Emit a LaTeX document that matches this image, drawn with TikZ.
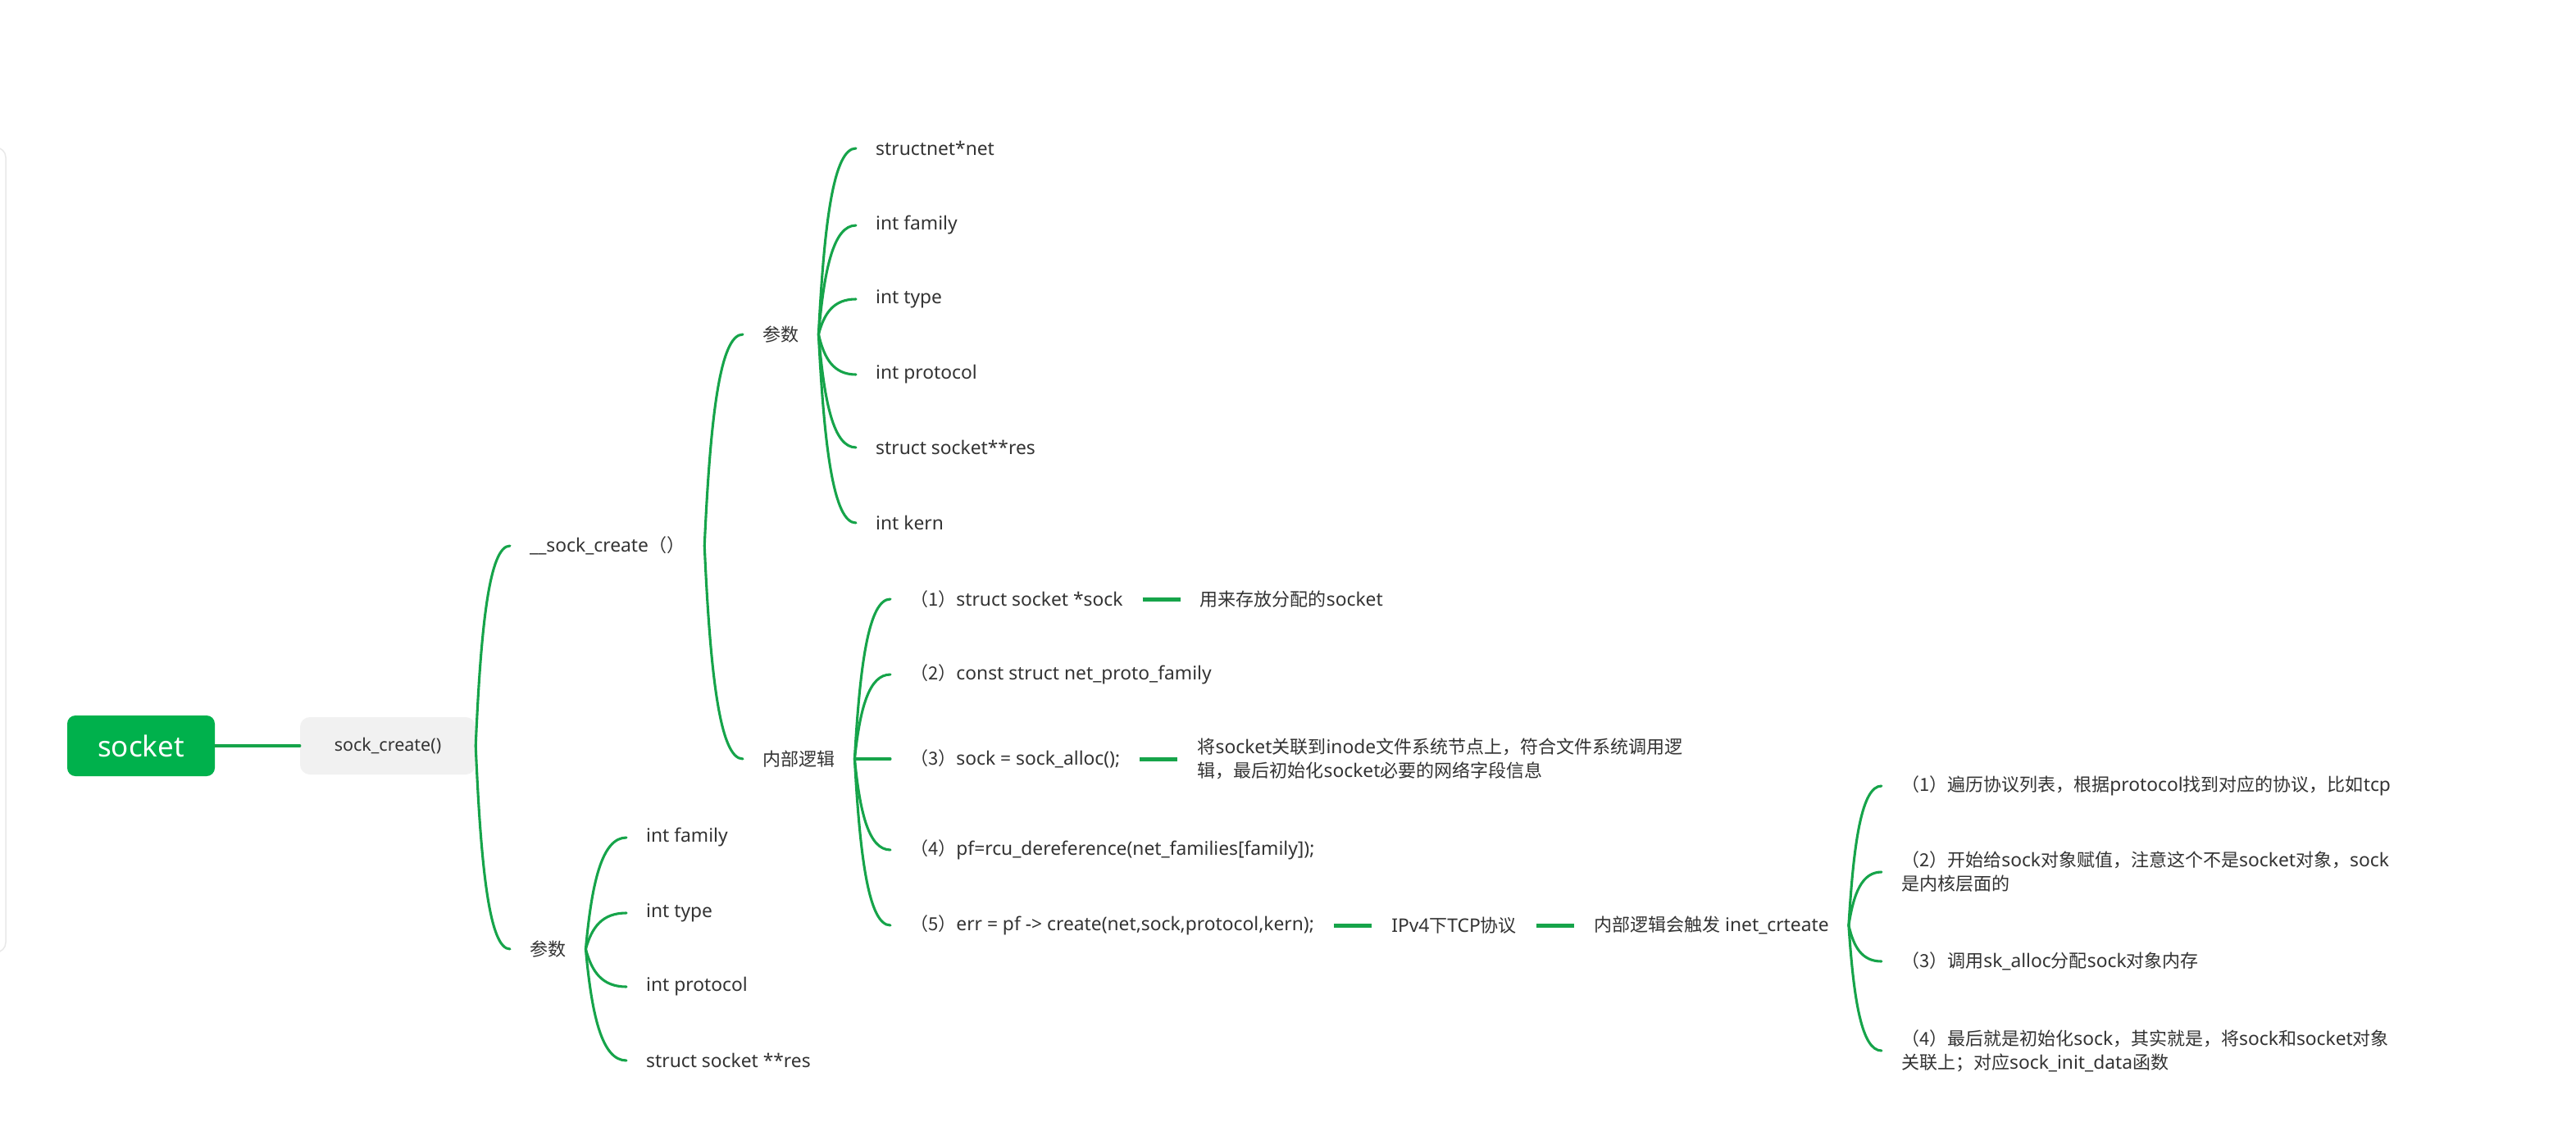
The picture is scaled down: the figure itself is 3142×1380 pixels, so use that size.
\documentclass[tikz,border=0pt]{standalone}
\usepackage{fontspec}
\setmainfont{Noto Sans}
\newfontfamily\cjkfont[Scale=0.965]{Noto Sans CJK SC}
\newcommand\zh[1]{{\cjkfont #1}}
\usetikzlibrary{calc}
\definecolor{mmgreen}{RGB}{0,177,76}
\definecolor{mmline}{RGB}{22,164,74}
\definecolor{mmtext}{RGB}{51,51,51}
\definecolor{mmgray}{RGB}{241,241,241}
\newcommand\mmbr[2]{\draw[br] let \p1=(#1.east), \p2=(#2.west) in (\p1) .. controls ({\x1+0.15*(\x2-\x1)},{\y1+0.6*(\y2-\y1)}) and ({\x1+0.4*(\x2-\x1)},{\y2}) .. (\p2);}
\begin{document}
\begin{tikzpicture}[x=1pt,y=-1pt,
  txt/.style={anchor=west, inner xsep=24pt, inner ysep=4pt, text=mmtext, font=\fontsize{22.8}{29}\selectfont, align=left},
  br/.style={draw=mmline, line width=3.1pt, line cap=round},
  dashln/.style={draw=mmline, line width=5pt},
  rootbox/.style={fill=mmgreen, rounded corners=10pt, minimum width=180pt, minimum height=74pt, text=white, font=\fontsize{35}{40}\selectfont},
  mainbox/.style={fill=mmgray, rounded corners=12pt, minimum width=214pt, minimum height=70pt, text=mmtext, font=\fontsize{21.5}{26}\selectfont},
  frame/.style={draw=black!9, line width=1.5pt, rounded corners=12pt}]
\useasboundingbox (0,0) rectangle (3142,1380);
\fill[white] (0,0) rectangle (3142,1380);
\draw[frame] (-40,180) rectangle (7,1162);

\node[rootbox] (root) at (172,910) {socket};
\node[mainbox] (sc) at (473,910) {sock\_create()};
\draw[br] (root.east) -- (sc.west);

\node[txt] (isc) at (622,666) {\_\_sock\_create\zh{（）}};
\node[txt] (p2) at (622,1158) {\zh{参数}};
\mmbr{sc}{isc}
\mmbr{sc}{p2}

\node[txt] (p1) at (906,408) {\zh{参数}};
\node[txt] (logic) at (906,926) {\zh{内部逻辑}};
\mmbr{isc}{p1}
\mmbr{isc}{logic}

\node[txt] (a1) at (1044,181) {structnet*net};
\node[txt] (a2) at (1044,275) {int family};
\node[txt] (a3) at (1044,365) {int type};
\node[txt] (a4) at (1044,457) {int protocol};
\node[txt] (a5) at (1044,546) {struct socket**res};
\node[txt] (a6) at (1044,638) {int kern};
\foreach \nd in {a1,a2,a3,a4,a5,a6} {\mmbr{p1}{\nd}}

\node[txt] (i1) at (1086,731) {\zh{（1）}struct socket *sock};
\node[txt] (i2) at (1086,823) {\zh{（2）}const struct net\_proto\_family};
\node[txt] (i3) at (1086,926) {\zh{（3）}sock = sock\_alloc();};
\node[txt] (i4) at (1086,1037) {\zh{（4）}pf=rcu\_dereference(net\_families[family]);};
\node[txt] (i5) at (1086,1129) {\zh{（5）}err = pf -> create(net,sock,protocol,kern);};
\foreach \nd in {i1,i2,i3,i4,i5} {\mmbr{logic}{\nd}}

\node[txt] (n1) at ($(i1.east)+(46,0)$) {\zh{用来存放分配的}socket};
\draw[dashln] (i1.east) -- (n1.west);
\node[txt] (n3) at ($(i3.east)+(46,0)$) {\zh{将}socket\zh{关联到}inode\zh{文件系统节点上，符合文件系统调用逻}\\\zh{辑，最后初始化}socket\zh{必要的网络字段信息}};
\draw[dashln] (i3.east) -- (n3.west);

\node[txt] (t1) at ($(i5.east)+(46,0)$) {IPv4\zh{下}TCP\zh{协议}};
\draw[dashln] (i5.east) -- (t1.west);
\node[txt] (t2) at ($(t1.east)+(46,0)$) {\zh{内部逻辑会触发} inet\_crteate};
\draw[dashln] (t1.east) -- (t2.west);

\coordinate (sx) at ($(t2.east)+(40,0)$);
\node[txt] (s1) at ($(sx)+(0,-170)$) {\zh{（1）遍历协议列表，根据}protocol\zh{找到对应的协议，比如}tcp};
\node[txt] (s2) at ($(sx)+(0,-65)$) {\zh{（2）开始给}sock\zh{对象赋值，注意这个不是}socket\zh{对象，}sock\\\zh{是内核层面的}};
\node[txt] (s3) at ($(sx)+(0,44)$) {\zh{（3）调用}sk\_alloc\zh{分配}sock\zh{对象内存}};
\node[txt] (s4) at ($(sx)+(0,153)$) {\zh{（4）最后就是初始化}sock\zh{，其实就是，将}sock\zh{和}socket\zh{对象}\\\zh{关联上；对应}sock\_init\_data\zh{函数}};
\foreach \nd in {s1,s2,s3,s4} {\mmbr{t2}{\nd}}

\node[txt] (b1) at (764,1022) {int family};
\node[txt] (b2) at (764,1114) {int type};
\node[txt] (b3) at (764,1204) {int protocol};
\node[txt] (b4) at (764,1294) {struct socket **res};
\foreach \nd in {b1,b2,b3,b4} {\mmbr{p2}{\nd}}
\end{tikzpicture}
\end{document}
